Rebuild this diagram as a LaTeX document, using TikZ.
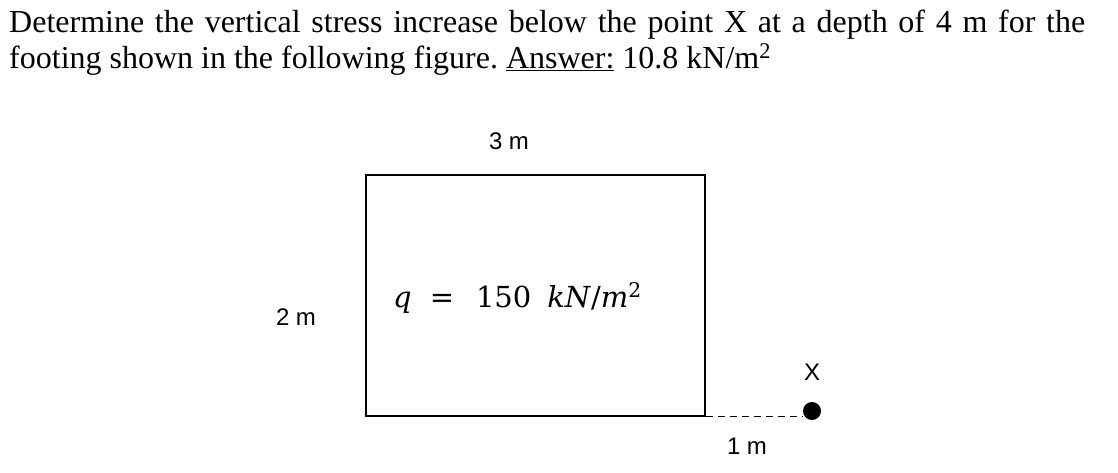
\documentclass[tikz,border=0pt]{standalone}
\usepackage{fontspec}
\setmainfont{Liberation Serif}
\setsansfont{Liberation Sans}
\newfontfamily\eqfont{DejaVu Serif}
\begin{document}
\frenchspacing
\begin{tikzpicture}[x=1pt,y=-1pt,
  body/.style={font=\fontsize{32}{36}\selectfont, inner sep=0pt, anchor=base west},
  lab/.style={font=\sffamily\fontsize{24}{27}\selectfont, inner sep=0pt},
  edge/.style={line width=1.3pt}]
\useasboundingbox (0,0) rectangle (1118,472);
\node[body] (l1) at (9,32) {\makebox[1076pt][s]{Determine the vertical stress increase below the point X at a depth of 4 m for the}};
\node[body] (l2) at (9,68) {footing shown in the following figure. \underline{Answer:} 10.8 kN/m\textsuperscript{2}};
\node[draw, edge, minimum width=339pt, minimum height=241pt, inner sep=0pt] (foot) at (535.5,295.5) {};
\node[font=\eqfont\fontsize{29}{32}\selectfont, inner sep=0pt, anchor=base west] (q) at (393,307) {\textit{q}\hspace{18pt}=\hspace{22pt}150\hspace{16pt}\textit{kN}/\textit{m}\textsuperscript{2}};
\node[lab] (w) at (509,141) {3 m};
\node[lab] (h) at (296,317) {2 m};
\node[circle, fill=black, minimum size=18pt, inner sep=0pt] (pt) at (812,411) {};
\node[lab] (xl) at (812,372) {X};
\node[lab] (d) at (747,446) {1 m};
\draw[line width=1.1pt, dash pattern=on 7pt off 5pt] (foot.south east) -- (foot.south east -| pt.west);
\end{tikzpicture}
\end{document}
